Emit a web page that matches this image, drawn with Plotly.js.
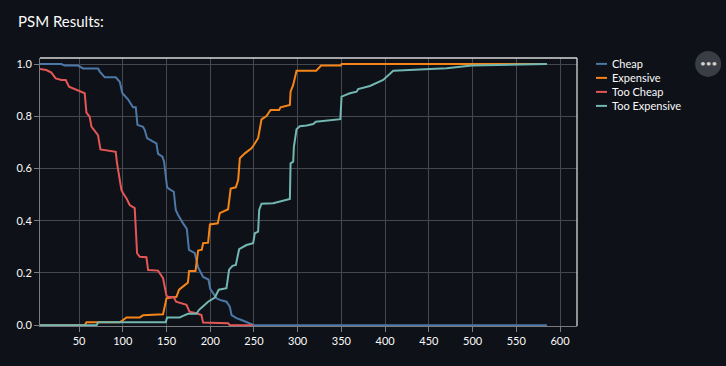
<!DOCTYPE html>
<html>
<head>
<meta charset="utf-8">
<script src="https://cdn.plot.ly/plotly-3.0.1.min.js"></script>
<style>
  html, body { margin: 0; padding: 0; background: #0e1117; }
  #chart { width: 726px; height: 366px; }
</style>
</head>
<body>
<div id="chart"></div>
<script>
// ---- Data ----
const seriesNames = ["Cheap", "Expensive", "Too Cheap", "Too Expensive"];
const seriesColors = ["#4c78a8", "#f58518", "#e45756", "#72b7b2"];

const cheapX = [5.4, 29.9, 33.6, 48.9, 54.6, 71.8, 73.7, 79.5, 92, 96.6, 99.6, 106, 111.8, 114.9, 116.8, 123.2, 125.2, 127.8, 134.7, 138.5, 140.4, 145.4, 147.3, 150.7, 153.8, 158.4, 160.6, 163.3, 169, 173.3, 175.7, 182.4, 186.2, 191.9, 198, 200, 207.2, 211, 218.6, 222.4, 224.4, 230, 235.8, 241.5, 250, 585];
const cheapY = [1.0, 1.0, 0.994, 0.994, 0.983, 0.983, 0.971, 0.949, 0.949, 0.932, 0.888, 0.865, 0.834, 0.834, 0.767, 0.760, 0.747, 0.716, 0.703, 0.696, 0.656, 0.645, 0.626, 0.528, 0.520, 0.511, 0.441, 0.422, 0.39, 0.369, 0.288, 0.2755, 0.221, 0.185, 0.175, 0.139, 0.103, 0.097, 0.09, 0.071, 0.039, 0.027, 0.02, 0.011, 0.0, 0.0];

const expensiveX = [5.4, 56.5, 58.5, 96.6, 100.4, 104.2, 119.5, 123.2, 146.1, 150, 157.7, 161.4, 164.4, 169, 174.5, 175.9, 183.2, 186.2, 190.4, 191.9, 197.6, 199.7, 208.7, 211, 220.5, 223.4, 229.3, 232, 233.9, 239.6, 247.2, 249.9, 254.8, 258.7, 264.4, 269, 278.8, 280.4, 291.1, 291.9, 294.9, 298.7, 321.2, 326.8, 349.4, 350.2, 585];
const expensiveY = [0, 0, 0.011, 0.011, 0.02, 0.03, 0.03, 0.038, 0.042, 0.103, 0.107, 0.109, 0.136, 0.15, 0.163, 0.208, 0.208, 0.286, 0.289, 0.314, 0.316, 0.386, 0.39, 0.429, 0.444, 0.523, 0.528, 0.556, 0.639, 0.658, 0.677, 0.69, 0.716, 0.788, 0.801, 0.824, 0.824, 0.834, 0.843, 0.894, 0.92, 0.974, 0.974, 0.994, 0.994, 1.0, 1.0];

const tooCheapX = [5.4, 12.7, 18.4, 23.3, 29.9, 34.8, 38.6, 47, 56.5, 58.5, 62.2, 64.2, 71.7, 74.5, 92, 93.5, 98.5, 100.4, 104.2, 108, 113.7, 116.4, 119.5, 127.1, 129, 140.4, 146.1, 150, 151.8, 158.4, 161, 172.9, 176.3, 184.3, 190, 191.9, 220.5, 222.4, 249];
const tooCheapY = [0.981, 0.977, 0.967, 0.945, 0.939, 0.939, 0.913, 0.9, 0.888, 0.814, 0.798, 0.76, 0.728, 0.673, 0.664, 0.62, 0.518, 0.505, 0.486, 0.46, 0.448, 0.2755, 0.262, 0.26, 0.211, 0.209, 0.18, 0.113, 0.109, 0.107, 0.09, 0.078, 0.052, 0.046, 0.039, 0.01, 0.008, 0, 0];

const tooExpensiveX = [5.4, 70, 72, 149.2, 150.7, 165.2, 169, 174.7, 184.3, 187.3, 191.9, 197.6, 205.3, 209.8, 218.6, 220.5, 221.6, 225.5, 229.3, 233.1, 241.5, 249.1, 251, 254.8, 256, 258.7, 272, 291.1, 291.9, 294.9, 295.7, 298.7, 302.5, 310.2, 317.8, 320.8, 348.8, 350.2, 359.7, 367.4, 369.2, 382.6, 397.8, 409.3, 447.5, 470.4, 499, 527.6, 585];
const tooExpensiveY = [0, 0, 0.011, 0.011, 0.03, 0.03, 0.036, 0.044, 0.044, 0.059, 0.073, 0.09, 0.106, 0.136, 0.142, 0.18, 0.213, 0.227, 0.231, 0.291, 0.307, 0.314, 0.352, 0.358, 0.441, 0.465, 0.467, 0.483, 0.62, 0.626, 0.683, 0.75, 0.762, 0.765, 0.770, 0.779, 0.789, 0.875, 0.888, 0.894, 0.904, 0.916, 0.939, 0.974, 0.981, 0.984, 0.994, 0.996, 1.0];

const xTickVals = [50, 100, 150, 200, 250, 300, 350, 400, 450, 500, 550, 600];
const yTickVals = [0, 0.2, 0.4, 0.6, 0.8, 1.0];

// ---- Build ----
const xs = [cheapX, expensiveX, tooCheapX, tooExpensiveX];
const ys = [cheapY, expensiveY, tooCheapY, tooExpensiveY];
const FONT = "'Source Sans Pro', Lato, sans-serif";
const TXT = "#fafafa";

const traces = seriesNames.map((n, i) => ({
  type: "scatter", mode: "lines", name: n,
  x: xs[i], y: ys[i],
  line: { color: seriesColors[i], width: 2 },
  showlegend: false
}));

// custom compact legend (shapes + annotations, paper coords)
const shapes = [
  { type: "line", xref: "paper", yref: "paper", x0: 0, x1: 1, y0: 1, y1: 1, line: { color: "#d9d9d9", width: 1.3 } },
  { type: "line", xref: "paper", yref: "paper", x0: 1, x1: 1, y0: 0, y1: 1, line: { color: "#d9d9d9", width: 1.3 } },
  { type: "circle", xref: "paper", yref: "paper", xsizemode: "pixel", ysizemode: "pixel",
    xanchor: 1.2442, yanchor: 0.978, x0: -13, x1: 13, y0: -13, y1: 13,
    fillcolor: "#3b3d45", line: { width: 0 } }
];
const annotations = [
  { xref: "paper", yref: "paper", x: 1.2442, y: 0.982, text: "•••", showarrow: false,
    font: { family: FONT, size: 10, color: "#d0d0d0" }, xanchor: "center", yanchor: "middle" }
];
const legY0 = 0.978, legStep = 14 / 268;
seriesNames.forEach((n, i) => {
  const yy = legY0 - i * legStep;
  shapes.push({ type: "line", xref: "paper", yref: "paper",
    x0: (596 - 40) / 537, x1: (607 - 40) / 537, y0: yy, y1: yy,
    line: { color: seriesColors[i], width: 2 } });
  annotations.push({ xref: "paper", yref: "paper", x: (610 - 40) / 537, y: yy,
    text: n, showarrow: false, xanchor: "left", yanchor: "middle",
    font: { family: FONT, size: 11, color: TXT } });
});

const layout = {
  width: 726, height: 366,
  paper_bgcolor: "#0e1117", plot_bgcolor: "#0e1117",
  font: { family: FONT, color: TXT, size: 11 },
  margin: { l: 40, r: 149, t: 58, b: 40 },
  title: { text: "PSM Results:", x: 18 / 726, xref: "container", xanchor: "left",
           y: 1 - 22 / 366, yref: "container", yanchor: "middle",
           font: { family: FONT, size: 15, color: TXT } },
  showlegend: false,
  xaxis: {
    range: [5.4, 619.4], tickvals: xTickVals, ticks: "outside", ticklen: 5,
    tickcolor: "#7a7c82", showline: true, linecolor: "#7a7c82", linewidth: 1,
    gridcolor: "#45484f", zeroline: false, tickfont: { size: 11, color: TXT }
  },
  yaxis: {
    range: [-0.003, 1.023], tickvals: yTickVals, tickformat: ".1f", ticks: "outside", ticklen: 5,
    tickcolor: "#7a7c82", showline: true, linecolor: "#7a7c82", linewidth: 1,
    gridcolor: "#45484f", zeroline: false, tickfont: { size: 11, color: TXT }
  },
  shapes: shapes,
  annotations: annotations
};

Plotly.newPlot("chart", traces, layout, { displayModeBar: false, staticPlot: true });
</script>
</body>
</html>
